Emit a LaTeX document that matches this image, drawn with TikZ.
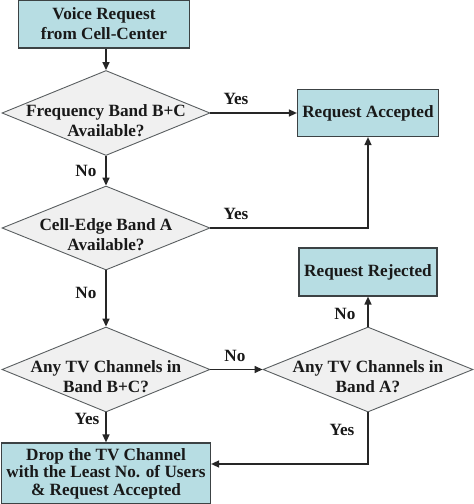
\documentclass[tikz,border=0pt]{standalone}
\usepackage{fontspec}
\setmainfont{Liberation Serif}
\usetikzlibrary{shapes.geometric,arrows.meta,positioning}
\definecolor{boxcyan}{RGB}{183,221,227}
\definecolor{diamgray}{RGB}{240,240,240}
\definecolor{edgegray}{RGB}{60,66,68}

\begin{document}
\begin{tikzpicture}[x=1pt, y=1pt,
    every node/.style={font=\fontsize{17.2}{20}\selectfont\bfseries, text=black!90},
    proc/.style={draw=edgegray, line width=1.2pt, fill=boxcyan, align=center, inner sep=0pt},
    decision/.style={diamond, draw=edgegray!85, line width=0.9pt, fill=diamgray, inner sep=0pt,
        minimum width=208pt, minimum height=85pt},
    dtext/.style={align=center, inner sep=0pt},
    flow/.style={line width=1.5pt, draw=black!85, -{Triangle[length=8pt,width=7pt]}},
    ans/.style={inner sep=0pt}]

\useasboundingbox (0,0) rectangle (474,504);

% Boxes
\node[proc, minimum width=171pt, minimum height=48pt] (start) at (104,480) {Voice Request\\from Cell-Center};
\node[proc, minimum width=141pt, minimum height=47pt] (acc) at (368,391) {Request Accepted};
\node[proc, minimum width=138pt, minimum height=48pt] (rej) at (368,232) {Request Rejected};
\node[proc, minimum width=209pt, minimum height=61pt, font=\fontsize{17.2}{17.5}\selectfont\bfseries] (drop) at (106,30.5)
    {Drop the TV Channel\\with the Least No. of Users\\\& Request Accepted};

% Decisions
\node[decision] (band) at (106,391) {};
\node[decision, minimum height=84pt] (edge) at (106,276) {};
\node[decision] (tvbc) at (106,134.5) {};
\node[decision, minimum width=210pt] (tva) at (368,134.5) {};

\node[dtext] (band-t) at ([yshift=-8pt]band.center) {Frequency Band B+C\\Available?};
\node[dtext] (edge-t) at ([yshift=-7pt]edge.center) {Cell-Edge Band A\\Available?};
\node[dtext] (tvbc-t) at ([yshift=-7pt]tvbc.center) {Any TV Channels in\\Band B+C?};
\node[dtext] (tva-t) at ([yshift=-7pt]tva.center) {Any TV Channels in\\Band A?};

% Connectors
\draw[flow] (start.south -| band.north) -- (band.north);
\draw[flow] (band.east) -- (acc.west);
\draw[flow] (band.south) -- (edge.north);
\draw[flow] (edge.east) -| (acc.south);
\draw[flow] (edge.south) -- (tvbc.north);
\draw[flow] (tvbc.east) -- (tva.west);
\draw[flow] (tva.north) -- (rej.south);
\draw[flow] (tvbc.south) -- (drop.north);
\draw[flow] (tva.south) |- ([yshift=9.5pt]drop.east);

% Answers
\node[ans] (yes1) at (236,405) {Yes};
\node[ans] (no1) at (86,333) {No};
\node[ans] (yes2) at (236,290) {Yes};
\node[ans] (no2) at (86,211) {No};
\node[ans] (no3) at (235,148) {No};
\node[ans] (no4) at (345,190) {No};
\node[ans] (yes3) at (87,85) {Yes};
\node[ans] (yes4) at (342,74) {Yes};

\end{tikzpicture}
\end{document}
